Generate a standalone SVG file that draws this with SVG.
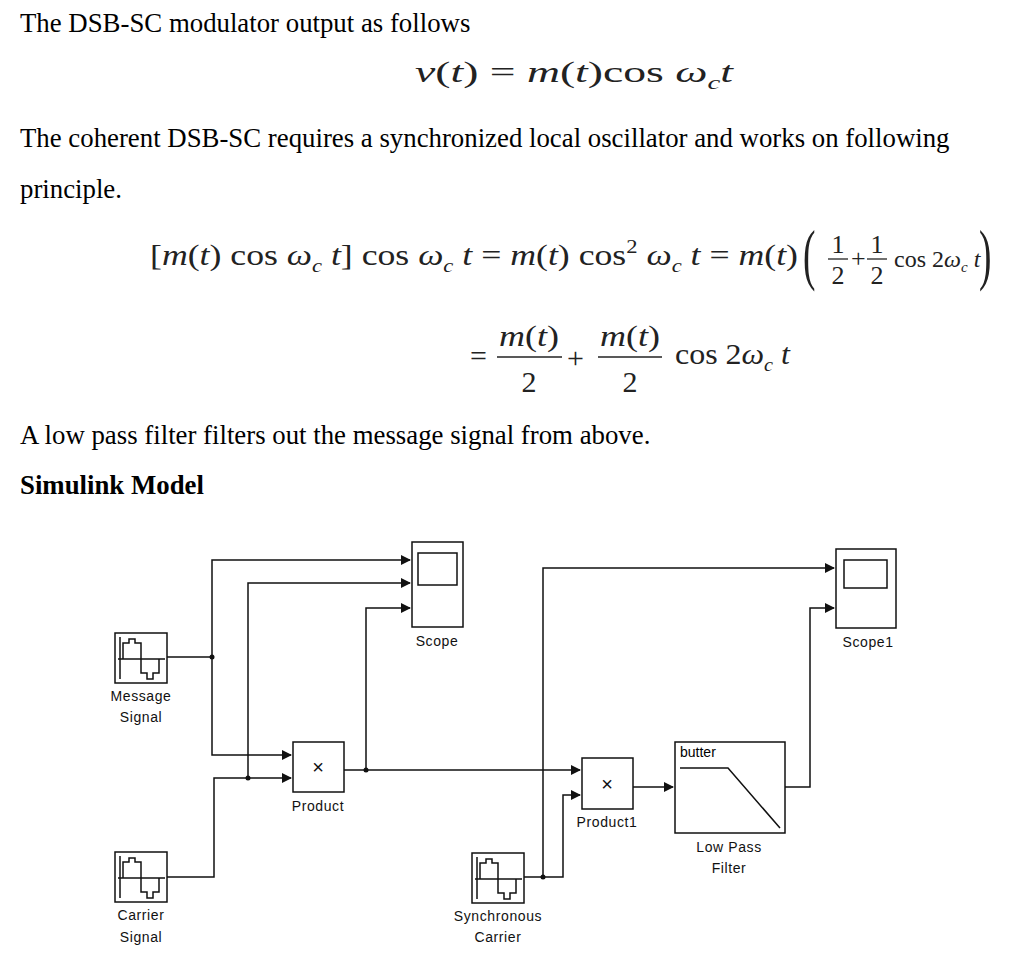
<svg xmlns="http://www.w3.org/2000/svg" width="1024" height="965" viewBox="0 0 1024 965">
<style>
.t{font-family:"Liberation Serif",serif;font-size:26.8px;fill:#000}
.eq{font-family:"Liberation Serif",serif;font-size:30px;fill:#222}
.i{font-style:italic}
.lb{font-family:"Liberation Sans",Arial,sans-serif;font-size:14px;letter-spacing:0.6px;fill:#111;text-anchor:middle}
.blk{fill:#fff;stroke:#111;stroke-width:1.5}
.w{fill:none;stroke:#111;stroke-width:1.5}
</style>
<defs>
<marker id="a" markerWidth="10" markerHeight="10" refX="9" refY="5" orient="auto" markerUnits="userSpaceOnUse"><path d="M0,0 L10,5 L0,10 Z" fill="#111"/></marker>
<g id="sig"><rect class="blk" x="0" y="0" width="52" height="50"/><path class="w" d="M5,4 V46 M3,26 H50 M8,26 V10 H14 V6 H20 V10 H26 V26 V40 H32 V46 H38 V40 H44 V26"/></g>
</defs>
<rect width="1024" height="965" fill="#fff"/>
<text class="t" x="20" y="32">The DSB-SC modulator output as follows</text>
<text class="eq" x="415" y="82" textLength="318" lengthAdjust="spacingAndGlyphs"><tspan class="i">v</tspan>(<tspan class="i">t</tspan>) =  <tspan class="i">m</tspan>(<tspan class="i">t</tspan>)cos  <tspan class="i">ω</tspan><tspan class="i" font-size="19" dy="7">c</tspan><tspan class="i" dy="-7">t</tspan></text>
<text class="t" x="20" y="147">The coherent DSB-SC requires a synchronized local oscillator and works on following</text>
<text class="t" x="20" y="198">principle.</text>
<text class="eq" x="150" y="265" textLength="648" lengthAdjust="spacingAndGlyphs">[<tspan class="i">m</tspan>(<tspan class="i">t</tspan>) cos  <tspan class="i">ω</tspan><tspan class="i" font-size="19" dy="7">c</tspan><tspan dy="-7"> </tspan><tspan class="i">t</tspan>] cos  <tspan class="i">ω</tspan><tspan class="i" font-size="19" dy="7">c</tspan><tspan dy="-7"> </tspan><tspan class="i">t</tspan> = <tspan class="i">m</tspan>(<tspan class="i">t</tspan>) cos<tspan font-size="19" dy="-12">2</tspan><tspan dy="12"> </tspan><tspan class="i">ω</tspan><tspan class="i" font-size="19" dy="7">c</tspan><tspan dy="-7"> </tspan><tspan class="i">t</tspan> = <tspan class="i">m</tspan>(<tspan class="i">t</tspan>)</text>
<g transform="translate(803,277) scale(0.55,1)"><text class="eq" x="0" y="0" style="font-size:68px">(</text></g>
<text class="eq" x="838" y="253" text-anchor="middle" style="font-size:26px">1</text><line x1="828" y1="259" x2="848" y2="259" stroke="#222" stroke-width="1.3"/><text class="eq" x="838" y="284" text-anchor="middle" style="font-size:26px">2</text>
<text class="eq" x="851" y="267" style="font-size:26px">+</text>
<text class="eq" x="877" y="253" text-anchor="middle" style="font-size:26px">1</text><line x1="867" y1="259" x2="887" y2="259" stroke="#222" stroke-width="1.3"/><text class="eq" x="877" y="284" text-anchor="middle" style="font-size:26px">2</text>
<text class="eq" x="894" y="267" style="font-size:24px">cos 2<tspan class="i">ω</tspan><tspan class="i" font-size="15" dy="5">c</tspan><tspan dy="-5"> </tspan><tspan class="i">t</tspan></text>
<g transform="translate(979,277) scale(0.55,1)"><text class="eq" x="0" y="0" style="font-size:68px">)</text></g>
<text class="eq" x="470" y="366">=</text>
<text class="eq" x="529" y="346" text-anchor="middle" textLength="60" lengthAdjust="spacingAndGlyphs"><tspan class="i">m</tspan>(<tspan class="i">t</tspan>)</text><line x1="497" y1="357" x2="562" y2="357" stroke="#222" stroke-width="1.3"/><text class="eq" x="529" y="392" text-anchor="middle">2</text>
<text class="eq" x="567" y="368">+</text>
<text class="eq" x="630" y="346" text-anchor="middle" textLength="60" lengthAdjust="spacingAndGlyphs"><tspan class="i">m</tspan>(<tspan class="i">t</tspan>)</text><line x1="598" y1="357" x2="662" y2="357" stroke="#222" stroke-width="1.3"/><text class="eq" x="630" y="392" text-anchor="middle">2</text>
<text class="eq" x="675" y="364" textLength="115" lengthAdjust="spacingAndGlyphs">cos 2<tspan class="i">ω</tspan><tspan class="i" font-size="19" dy="7">c</tspan><tspan dy="-7"> </tspan><tspan class="i">t</tspan></text>
<text class="t" x="20" y="444">A low pass filter filters out the message signal from above.</text>
<text class="t" x="20" y="494" font-weight="bold">Simulink Model</text>

<g id="connectors">
<path class="w" d="M167,657 H212 V560 H410" marker-end="url(#a)"/>
<path class="w" d="M212,657 V755 H291" marker-end="url(#a)"/>
<path class="w" d="M248,778 V583 H410" marker-end="url(#a)"/>
<path class="w" d="M167,877 H214 V778 H291" marker-end="url(#a)"/>
<path class="w" d="M344,770 H580" marker-end="url(#a)"/>
<path class="w" d="M366,770 V608 H410" marker-end="url(#a)"/>
<path class="w" d="M523,877 H563 V795 H580" marker-end="url(#a)"/>
<path class="w" d="M543,877 V568 H834" marker-end="url(#a)"/>
<path class="w" d="M633,787 H673" marker-end="url(#a)"/>
<path class="w" d="M785,787 H810 V608 H834" marker-end="url(#a)"/>
<circle cx="212" cy="657" r="2.5" fill="#111"/>
<circle cx="248" cy="778" r="2.5" fill="#111"/>
<circle cx="366" cy="770" r="2.5" fill="#111"/>
<circle cx="543" cy="877" r="2.5" fill="#111"/>
</g>

<g id="message-signal"><use href="#sig" x="115" y="633"/><text class="lb" x="141" y="701">Message</text><text class="lb" x="141" y="722">Signal</text></g>
<g id="carrier-signal"><use href="#sig" x="115" y="852"/><text class="lb" x="141" y="920">Carrier</text><text class="lb" x="141" y="942">Signal</text></g>
<g id="sync-carrier"><use href="#sig" x="472" y="853"/><text class="lb" x="498" y="921">Synchronous</text><text class="lb" x="498" y="942">Carrier</text></g>
<g id="scope"><rect class="blk" x="412" y="542" width="51" height="85"/><rect class="blk" x="418" y="553" width="39" height="32"/><text class="lb" x="437" y="646">Scope</text></g>
<g id="scope1"><rect class="blk" x="836" y="549" width="60" height="79"/><rect class="blk" x="844" y="560" width="43" height="28"/><text class="lb" x="868" y="647">Scope1</text></g>
<g id="product"><rect class="blk" x="293" y="742" width="51" height="50"/><text class="lb" x="318" y="774" style="font-size:20px;letter-spacing:0">×</text><text class="lb" x="318" y="811">Product</text></g>
<g id="product1"><rect class="blk" x="582" y="758" width="51" height="51"/><text class="lb" x="607" y="791" style="font-size:20px;letter-spacing:0">×</text><text class="lb" x="607" y="827">Product1</text></g>
<g id="lpf"><rect class="blk" x="675" y="742" width="110" height="91"/><text x="680" y="757" font-family="Liberation Sans,Arial,sans-serif" font-size="14">butter</text><path class="w" d="M680,768 H728 L780,828"/><text class="lb" x="729" y="852">Low Pass</text><text class="lb" x="729" y="873">Filter</text></g>
</svg>
